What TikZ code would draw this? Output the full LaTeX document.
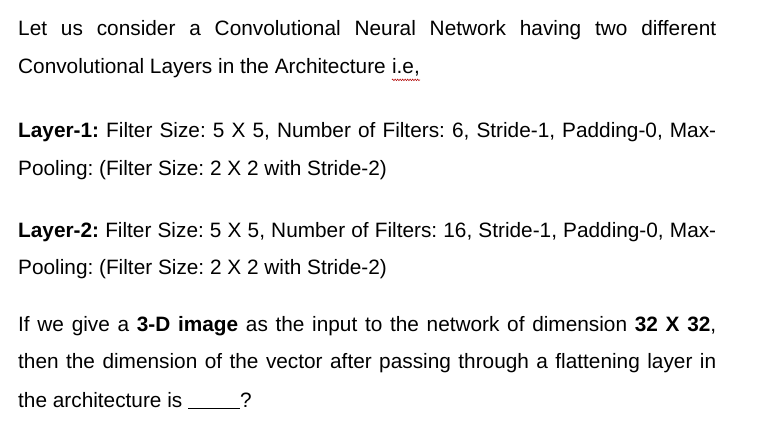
\documentclass[tikz,border=0pt]{standalone}
\usepackage{fontspec}
\setmainfont{Liberation Sans}
\usetikzlibrary{decorations.pathmorphing}
\frenchspacing
\begin{document}
\begin{tikzpicture}[x=1pt,y=-1pt,
  ln/.style={anchor=base west,inner sep=0pt,font=\fontsize{20.8}{24}\selectfont\frenchspacing}]
\useasboundingbox (0,0) rectangle (768,427);
\fill[white] (0,0) rectangle (768,427);
\node[ln] (l1) at (18,36) {\makebox[698pt][s]{Let us consider a Convolutional Neural Network having two different}};
\node[ln] (l2) at (18,74) {Convolutional Layers in the Architecture \tikz[baseline]{\node[inner sep=0pt,anchor=base] (ie) {i.e,};\draw[red!70!black,line width=0.5pt,decorate,decoration={snake,amplitude=0.8pt,segment length=2.5pt}] ([yshift=-3pt]ie.south west)--([yshift=-3pt]ie.south east);}};
\node[ln] (l3) at (18,138) {\makebox[698pt][s]{\textbf{Layer-1:} Filter Size: 5 X 5, Number of Filters: 6, Stride-1, Padding-0, Max-}};
\node[ln] (l4) at (18,176) {Pooling: (Filter Size: 2 X 2 with Stride-2)};
\node[ln] (l5) at (18,238) {\makebox[698pt][s]{\textbf{Layer-2:} Filter Size: 5 X 5, Number of Filters: 16, Stride-1, Padding-0, Max-}};
\node[ln] (l6) at (18,275) {Pooling: (Filter Size: 2 X 2 with Stride-2)};
\node[ln] (l7) at (18,332) {\makebox[698pt][s]{If we give a \textbf{3-D image} as the input to the network of dimension \textbf{32 X 32},}};
\node[ln] (l8) at (18,369) {\makebox[698pt][s]{then the dimension of the vector after passing through a flattening layer in}};
\node[ln] (l9) at (18,407) {the architecture is \underline{\hspace{52pt}}?};
\end{tikzpicture}
\end{document}
